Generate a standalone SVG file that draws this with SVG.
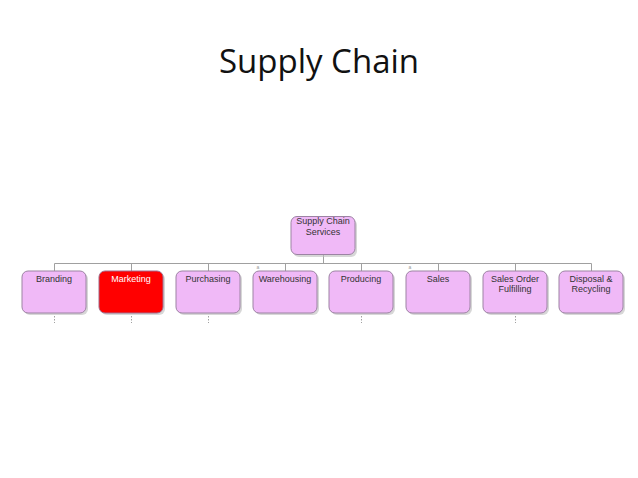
<svg xmlns="http://www.w3.org/2000/svg" width="638" height="478" viewBox="0 0 638 478">
<style>
.box{fill:#F0B9F7;stroke:#9C83A3;stroke-width:1}
.red{fill:#FF0000;stroke:#A06A8A;stroke-width:1}
.sh{fill:#BDBDBD;opacity:0.6}
.t{font-family:"Liberation Sans",Arial,sans-serif;font-size:9px;fill:#333333;text-anchor:middle}
.tw{font-family:"Liberation Sans",Arial,sans-serif;font-size:9px;fill:#FFFFFF;text-anchor:middle}
.ln{stroke:#A0A0A0;stroke-width:1;fill:none}
.dt{stroke:#A0A0A0;stroke-width:1;stroke-dasharray:1.5,1.5;fill:none}
.mk{font-family:"Liberation Sans",Arial,sans-serif;font-size:5px;fill:#999999;text-anchor:middle}
</style>
<rect width="638" height="478" fill="#FFFFFF"/>
<text x="319" y="73" font-family="Open Sans, Lato, sans-serif" font-size="33" fill="#111111" text-anchor="middle">Supply Chain</text>
<g id="connectors">
<path class="ln" d="M323.5 255V263.5M54.5 263.5H591.5M54.5 263.5V271M131.5 263.5V271M208.5 263.5V271M285.5 263.5V271M361.5 263.5V271M438.5 263.5V271M515.5 263.5V271M591.5 263.5V271"/>
<path class="dt" d="M54.5 316V323M131.5 316V323M208.5 316V323M361.5 316V323M515.5 316V323"/>
<text class="mk" x="258" y="269">a</text>
<text class="mk" x="410" y="269">a</text>
</g>
<g id="root">
<rect class="sh" x="293" y="219" width="64" height="38" rx="6"/>
<rect class="box" x="291" y="216.5" width="64" height="38" rx="6"/>
<text class="t" x="323" y="224">Supply Chain</text>
<text class="t" x="323" y="235">Services</text>
</g>
<g id="branding">
<rect class="sh" x="24" y="273" width="64" height="42" rx="6"/>
<rect class="box" x="22" y="271" width="64" height="42" rx="6"/>
<text class="t" x="54" y="282">Branding</text>
</g>
<g id="marketing">
<rect class="sh" x="101" y="273" width="64" height="42" rx="6"/>
<rect class="red" x="99" y="271" width="64" height="42" rx="6"/>
<text class="tw" x="131" y="282">Marketing</text>
</g>
<g id="purchasing">
<rect class="sh" x="178" y="273" width="64" height="42" rx="6"/>
<rect class="box" x="176" y="271" width="64" height="42" rx="6"/>
<text class="t" x="208" y="282">Purchasing</text>
</g>
<g id="warehousing">
<rect class="sh" x="255" y="273" width="64" height="42" rx="6"/>
<rect class="box" x="253" y="271" width="64" height="42" rx="6"/>
<text class="t" x="285" y="282">Warehousing</text>
</g>
<g id="producing">
<rect class="sh" x="331" y="273" width="64" height="42" rx="6"/>
<rect class="box" x="329" y="271" width="64" height="42" rx="6"/>
<text class="t" x="361" y="282">Producing</text>
</g>
<g id="sales">
<rect class="sh" x="408" y="273" width="64" height="42" rx="6"/>
<rect class="box" x="406" y="271" width="64" height="42" rx="6"/>
<text class="t" x="438" y="282">Sales</text>
</g>
<g id="sales-order">
<rect class="sh" x="485" y="273" width="64" height="42" rx="6"/>
<rect class="box" x="483" y="271" width="64" height="42" rx="6"/>
<text class="t" x="515" y="282">Sales Order</text>
<text class="t" x="515" y="292">Fulfilling</text>
</g>
<g id="disposal">
<rect class="sh" x="561" y="273" width="64" height="42" rx="6"/>
<rect class="box" x="559" y="271" width="64" height="42" rx="6"/>
<text class="t" x="591" y="282">Disposal &amp;</text>
<text class="t" x="591" y="292">Recycling</text>
</g>
</svg>
